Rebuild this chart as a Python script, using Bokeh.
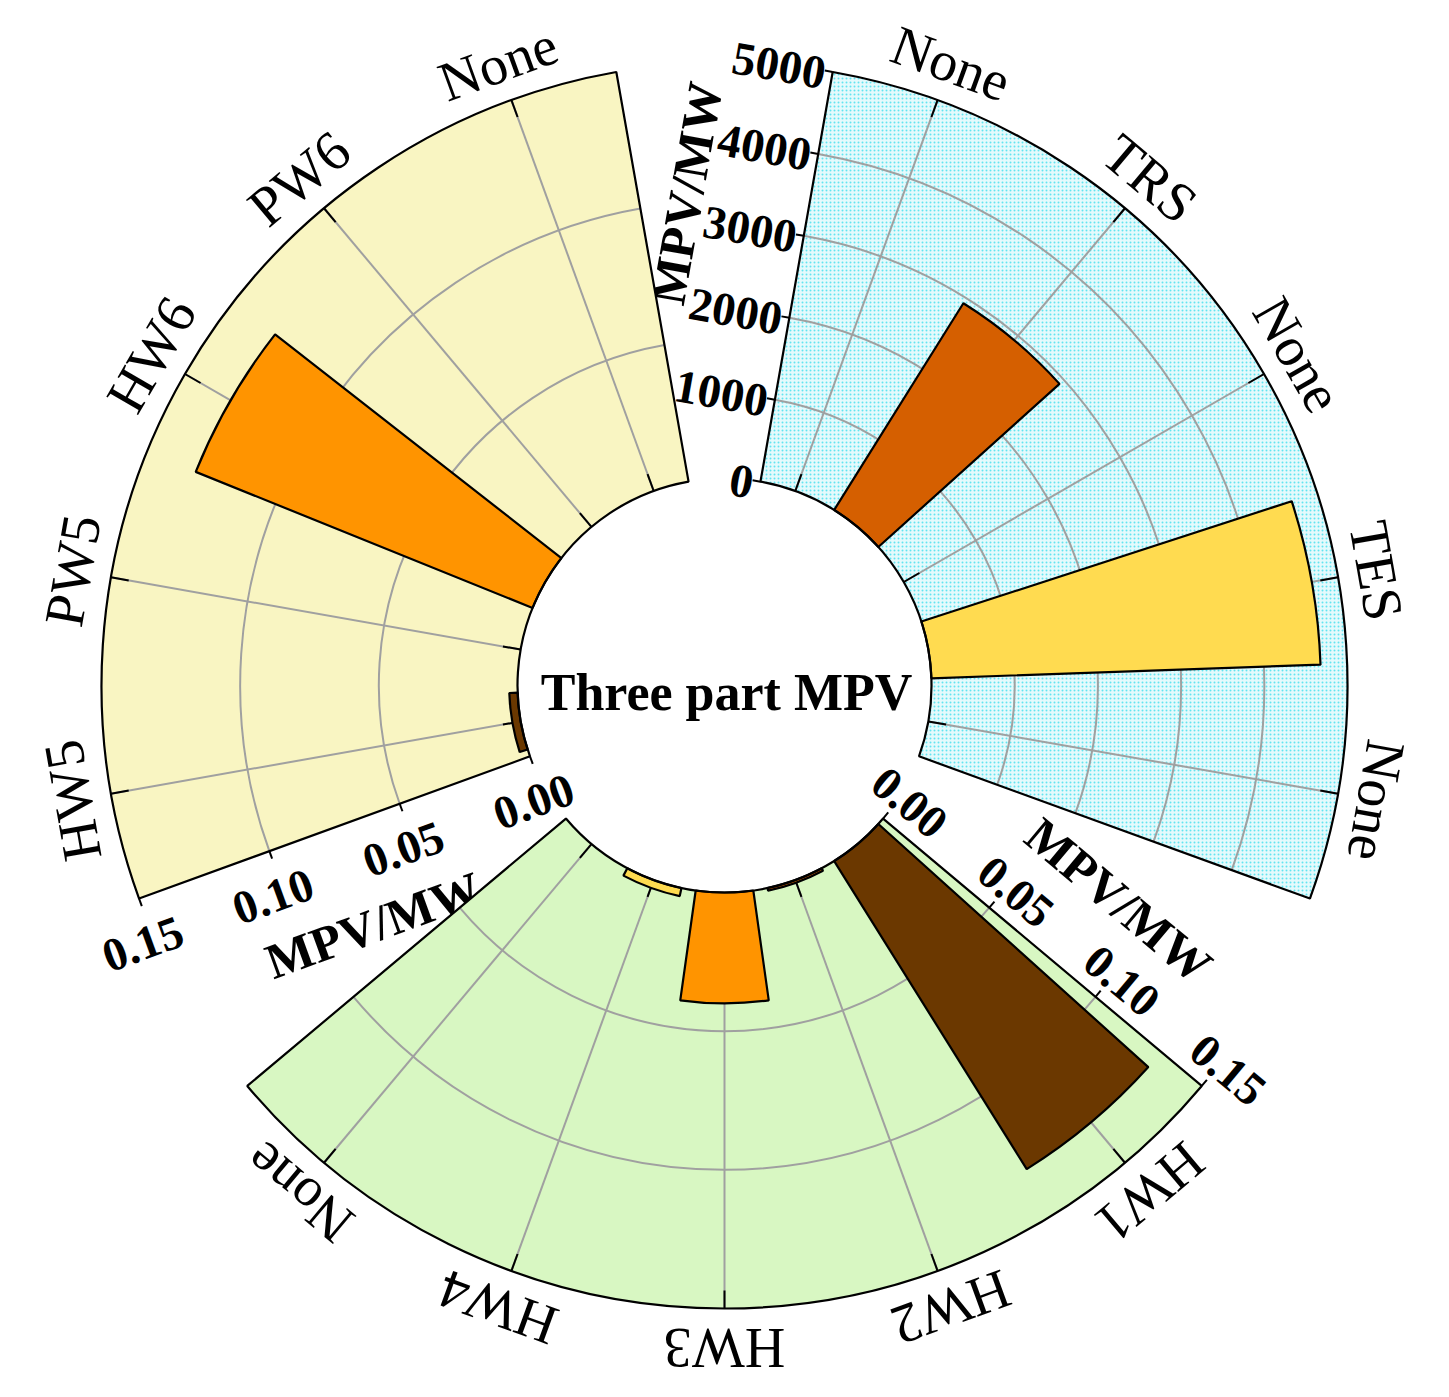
import math
from bokeh.plotting import figure
from bokeh.models import Range1d
from bokeh.core.properties import value
from bokeh.embed import file_html
from bokeh.resources import INLINE

# ---------------- data ----------------
right_cats = ["None", "TRS", "None", "TES", "None"]
right_vals = [0, 2930, 0, 4680, 0]
right_colors = ["#D55F00", "#D55F00", "#D55F00", "#FFDB50", "#D55F00"]
right_ticks = [0, 1000, 2000, 3000, 4000, 5000]
right_tick_labels = ["0", "1000", "2000", "3000", "4000", "5000"]

left_cats = ["HW5", "PW5", "HW6", "PW6", "None"]
left_vals = [0.003, 0, 0.131, 0, 0]
left_colors = ["#6B3800", "#FF9400", "#FF9400", "#FF9400", "#FF9400"]

bottom_cats = ["HW1", "HW2", "HW3", "HW4", "None"]
bottom_vals = [0.131, 0.001, 0.040, 0.003, 0]
bottom_colors = ["#6B3800", "#D55F00", "#FF9400", "#FFDB50", "#FF9400"]

small_ticks = [0.0, 0.05, 0.10, 0.15]
small_tick_labels = ["0.00", "0.05", "0.10", "0.15"]

axis_title = "MPV/MW"
center_title = "Three part MPV"

# ---------------- layout ----------------
W, H = 1433, 1381
CX, CY = 724, 1397 - 685
R0, R1 = 207, 623
SPAN, SLOT, BAR_W = 100, 20, 16
GRID = "#A0A0A0"
SERIF = value("Liberation Serif")

sectors = [
    dict(axis=80, cats=right_cats, vals=right_vals, colors=right_colors, vmax=5000,
         ticks=right_ticks, tlabels=right_tick_labels, rings=[1000, 2000, 3000, 4000],
         bg="#E4FAFC", hatch=True,
         lab_angle=-10, lab_align="right", lab_perp=7, lab_along=-3,
         title_angle=80, title_r=478, title_perp=123),
    dict(axis=200, cats=left_cats, vals=left_vals, colors=left_colors, vmax=0.15,
         ticks=small_ticks, tlabels=small_tick_labels, rings=[0.05, 0.10],
         bg="#F9F5C2", hatch=False,
         lab_angle=20, lab_align="center", lab_perp=44, lab_along=12,
         title_angle=20, title_r=412, title_perp=105),
    dict(axis=320, cats=bottom_cats, vals=bottom_vals, colors=bottom_colors, vmax=0.15,
         ticks=small_ticks, tlabels=small_tick_labels, rings=[0.05, 0.10],
         bg="#D8F7C2", hatch=False,
         lab_angle=-40, lab_align="center", lab_perp=29, lab_along=10,
         title_angle=-40, title_r=440, title_perp=89),
]


def pol(r, deg):
    a = math.radians(deg)
    return CX + r * math.cos(a), CY + r * math.sin(a)


def tang(deg):
    a = math.radians(deg)
    return -math.sin(a), math.cos(a)


def rad(deg):
    a = math.radians(deg)
    return math.cos(a), math.sin(a)


p = figure(width=W, height=H, x_range=Range1d(0, W), y_range=Range1d(1397 - H, 1397),
           x_axis_type=None, y_axis_type=None, toolbar_location=None,
           output_backend="svg", min_border=0)
p.grid.visible = False
p.outline_line_color = None
p.background_fill_color = "white"
p.border_fill_color = "white"

for s in sectors:
    a = s["axis"]
    a0 = a - SPAN
    k = (R1 - R0) / s["vmax"]
    # background
    kw = {}
    if s["hatch"]:
        kw = dict(hatch_pattern="dot", hatch_color="#62E4F0", hatch_scale=4, hatch_weight=1.1)
    p.annular_wedge(x=CX, y=CY, inner_radius=R0, outer_radius=R1,
                    start_angle=a0, end_angle=a, start_angle_units="deg", end_angle_units="deg",
                    fill_color=s["bg"], line_color=None, **kw)
    # rings
    p.arc(x=CX, y=CY, radius=[R0 + v * k for v in s["rings"]],
          start_angle=a0, end_angle=a, start_angle_units="deg", end_angle_units="deg",
          line_color=GRID, line_width=2)
    # radial grid at category centres + black ticks at both ends
    centres = [a - SLOT / 2 - SLOT * i for i in range(len(s["cats"]))]
    gx0, gy0, gx1, gy1 = [], [], [], []
    tx0, ty0, tx1, ty1 = [], [], [], []
    for c in centres:
        x0, y0 = pol(R0, c); x1, y1 = pol(R1, c)
        gx0.append(x0); gy0.append(y0); gx1.append(x1); gy1.append(y1)
        xa, ya = pol(R0 + 18, c); xb, yb = pol(R1 - 18, c)
        tx0 += [x0, xb]; ty0 += [y0, yb]; tx1 += [xa, x1]; ty1 += [ya, y1]
    p.segment(x0=gx0, y0=gy0, x1=gx1, y1=gy1, line_color=GRID, line_width=2)
    p.segment(x0=tx0, y0=ty0, x1=tx1, y1=ty1, line_color="black", line_width=2)
    # bars
    bs, be, bo, bc = [], [], [], []
    for c, v, col in zip(centres, s["vals"], s["colors"]):
        if v > 0:
            bs.append(c - BAR_W / 2); be.append(c + BAR_W / 2)
            bo.append(R0 + v * k); bc.append(col)
    p.annular_wedge(x=CX, y=CY, inner_radius=R0, outer_radius=bo,
                    start_angle=bs, end_angle=be, start_angle_units="deg", end_angle_units="deg",
                    fill_color=bc, line_color="black", line_width=2.2)
    # sector outline
    p.annular_wedge(x=CX, y=CY, inner_radius=R0, outer_radius=R1,
                    start_angle=a0, end_angle=a, start_angle_units="deg", end_angle_units="deg",
                    fill_color=None, line_color="black", line_width=2.2)
    # axis ticks + labels
    tvec = tang(a); uvec = rad(a)
    kx0, ky0, kx1, ky1, lx, ly = [], [], [], [], [], []
    for v in s["ticks"]:
        x, y = pol(R0 + v * k, a)
        kx0.append(x); ky0.append(y)
        kx1.append(x + 8 * tvec[0]); ky1.append(y + 8 * tvec[1])
        lx.append(x + s["lab_perp"] * tvec[0] + s["lab_along"] * uvec[0])
        ly.append(y + s["lab_perp"] * tvec[1] + s["lab_along"] * uvec[1])
    p.segment(x0=kx0, y0=ky0, x1=kx1, y1=ky1, line_color="black", line_width=2)
    p.text(x=lx, y=ly, text=s["tlabels"], angle=s["lab_angle"], angle_units="deg",
           text_align=s["lab_align"], text_baseline="middle", text_font=SERIF,
           text_font_style="bold", text_font_size=value("47px"), text_color="black")
    # axis title
    x, y = pol(s["title_r"], a)
    p.text(x=[x + s["title_perp"] * tvec[0]], y=[y + s["title_perp"] * tvec[1]], text=[axis_title],
           angle=s["title_angle"], angle_units="deg", text_align="center", text_baseline="middle",
           text_font=SERIF, text_font_style="bold", text_font_size=value("50px"), text_color="black")
    # category labels
    cx_, cy_ = [], []
    for c in centres:
        x, y = pol(R1 + 39, c)
        cx_.append(x); cy_.append(y)
    p.text(x=cx_, y=cy_, text=s["cats"], angle=[c - 90 for c in centres], angle_units="deg",
           text_align="center", text_baseline="middle", text_font=SERIF,
           text_font_size=value("56px"), text_color="black")

p.text(x=[CX + 2], y=[CY - 7], text=[center_title], text_align="center", text_baseline="middle",
       text_font=SERIF, text_font_style="bold", text_font_size=value("52px"), text_color="black")

open("out.html", "w").write(file_html(p, INLINE))
